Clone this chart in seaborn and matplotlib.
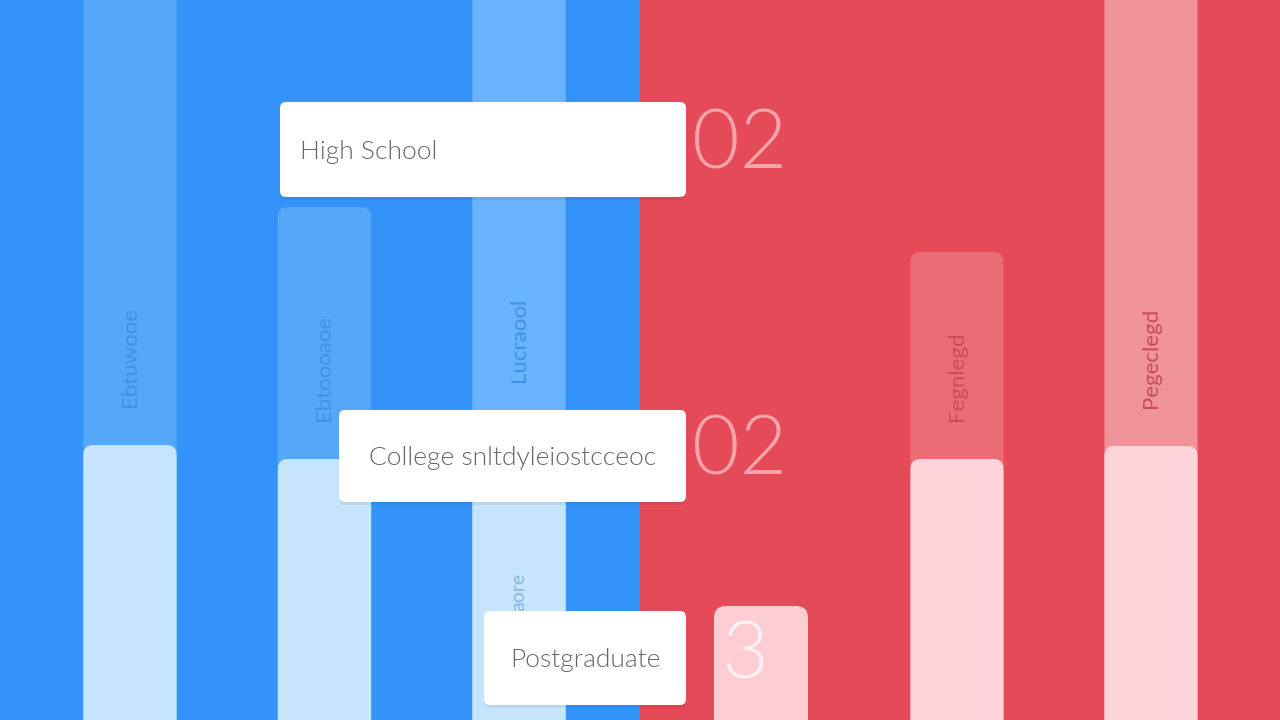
import matplotlib
matplotlib.use("Agg")
import matplotlib.pyplot as plt
from matplotlib.patches import FancyBboxPatch
import seaborn as sns

# bars on the blue half (height from the bottom edge, light part = lower segment)
blue_cats = ["Ebtuwooe", "Ebtoooaoe", "Lucraool"]
blue_total = [760, 513, 760]
blue_light = [275, 261, 300]

# bars on the red half
red_cats = ["Fegnlegd", "Pegeclegd"]
red_total = [468, 760]
red_light = [261, 274]

# label cards and their counts
levels = ["High School", "College snltdyleiostcceoc", "Postgraduate"]
counts = ["02", "02", "3"]

BLUE_BG = "#3493f8"
RED_BG = "#e54a58"
blue_mid = ["#56a7fa", "#56a7fa", "#69b3fc"]
blue_pale = "#c6e4fb"
red_mid = ["#eb6c77", "#f0929a"]
red_pale = "#fdd4d9"

sns.set_theme(style="white")
plt.rcParams['font.family'] = ['Lato', 'DejaVu Sans']

fig = plt.figure(figsize=(12.8, 7.2), dpi=100)
ax_l = fig.add_axes([0, 0, 0.5, 1])
ax_r = fig.add_axes([0.5, 0, 0.5, 1])


def rounded(ax, px_per_unit, radius=10):
    # swap seaborn's square bars for bars with rounded tops
    for p in list(ax.patches):
        x, y, w, h = p.get_x(), p.get_y(), p.get_width(), p.get_height()
        fc = p.get_facecolor()
        p.remove()
        ax.add_patch(FancyBboxPatch(
            (x, y - 20), w, h + 20,
            boxstyle=f"round,pad=0,rounding_size={radius / px_per_unit}",
            mutation_aspect=px_per_unit, fc=fc, ec="none", zorder=2))


def draw_half(ax, cats, total, light, mids, pale, bg, txt_color, xlim):
    sns.barplot(x=cats, y=total, hue=cats, palette=mids, legend=False,
                width=0.48, saturation=1, ax=ax)
    sns.barplot(x=cats, y=light, color=pale, width=0.48, saturation=1, ax=ax)
    ax.set_xlim(*xlim)
    ax.set_ylim(0, 720)
    ppu = 640 / (xlim[1] - xlim[0])
    rounded(ax, ppu)
    for i, name in enumerate(cats):
        ax.text(i, light[i] + 38, name, rotation=90, ha="center", va="bottom",
                fontsize=16, color=txt_color, zorder=3)
    ax.set_facecolor(bg)
    ax.set(xticks=[], yticks=[], xlabel="", ylabel="")
    sns.despine(ax=ax, left=True, bottom=True)


draw_half(ax_l, blue_cats, blue_total, blue_light, blue_mid, blue_pale,
          BLUE_BG, "#4190e4", (-0.668, 2.622))
draw_half(ax_r, red_cats, red_total, red_light, red_mid, red_pale,
          RED_BG, "#c64c5e", (-1.634, 1.665))
ax_l.text(2, 128, "aore", rotation=90, ha="center", va="center",
          fontsize=14, color="#86b6e4", zorder=3)

# overlay in pixel space for the cards
ov = fig.add_axes([0, 0, 1, 1])
ov.set_xlim(0, 1280)
ov.set_ylim(720, 0)
ov.axis("off")
ov.patch.set_alpha(0)

cards = [(280, 102, 406, 95, "left"), (339, 410, 347, 92, "center"),
         (484, 611, 202, 94, "center")]
for (x, y, w, h, align), name, cnt in zip(cards, levels, counts):
    ov.add_patch(FancyBboxPatch((x, y + 3), w, h, boxstyle="round,pad=0,rounding_size=6",
                                fc="black", alpha=0.06, ec="none"))
    ov.add_patch(FancyBboxPatch((x, y), w, h, boxstyle="round,pad=0,rounding_size=6",
                                fc="white", ec="none"))
    tx = x + 20 if align == "left" else x + w / 2
    ov.text(tx, y + h / 2 + 2, name, ha=align, va="center", fontsize=19,
            fontweight=300, color="#666666")
    if cnt == "3":
        ov.add_patch(FancyBboxPatch((714, 606), 94, 140,
                                    boxstyle="round,pad=0,rounding_size=12",
                                    fc="#fccdd3", ec="none"))
        ov.text(745, 656, cnt, ha="center", va="center", fontsize=58,
                fontweight=300, color="#fff1f3")
    else:
        ov.text(692, y + h / 2 - 4, cnt, ha="left", va="center", fontsize=59,
                fontweight=300, color="#f6a3aa")

fig.savefig("out.png", dpi=100)
